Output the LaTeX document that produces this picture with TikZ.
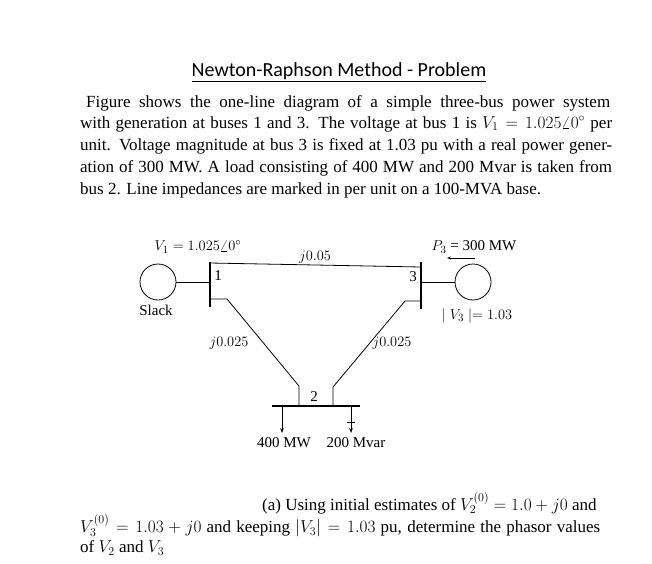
\documentclass[tikz,border=0pt]{standalone}
\usepackage{fontspec}
\setmainfont{Liberation Serif}
\newfontfamily\titlefont{Carlito}
\usetikzlibrary{arrows.meta}
\begin{document}
\begin{tikzpicture}[x=1pt,y=-1pt,
  wire/.style={line width=0.8pt},
  busbar/.style={line width=1.6pt},
  gen/.style={draw,circle,minimum size=36pt,inner sep=0pt,line width=0.8pt},
  lbl/.style={font=\fontsize{15}{17}\selectfont,inner sep=1pt},
  para/.style={font=\fontsize{17}{20}\selectfont,anchor=west,inner sep=0pt}]
\useasboundingbox (0,0) rectangle (652,563);
% title
\node (title) at (339,72) {\titlefont\fontsize{20}{24}\selectfont\underline{Newton-Raphson Method - Problem}};
% paragraph
\node[para] (p1) at (86,103) {\makebox[524pt][s]{Figure shows the one-line diagram of a simple three-bus power system}};
\node[para] (p2) at (80,124) {\makebox[532pt][s]{with generation at buses 1 and 3. The voltage at bus 1 is $V_1=1.025\angle 0^\circ$ per}};
\node[para] (p3) at (80,146) {\makebox[532pt][s]{unit. Voltage magnitude at bus 3 is fixed at 1.03 pu with a real power gener-}};
\node[para] (p4) at (80,168) {\makebox[532pt][s]{ation of 300 MW. A load consisting of 400 MW and 200 Mvar is taken from}};
\node[para] (p5) at (80,190) {bus 2. Line impedances are marked in per unit on a 100-MVA base.};
% diagram
\node[gen] (g1) at (158,282) {};
\node[gen] (g3) at (473,282) {};
\coordinate (b1t) at (210,262); \coordinate (b1b) at (210,307);
\coordinate (b3t) at (421,262); \coordinate (b3b) at (421,309);
\coordinate (b2l) at (272,406); \coordinate (b2r) at (360,406);
\draw[busbar] (b1t) -- (b1b);
\draw[busbar] (b3t) -- (b3b);
\draw[busbar] (b2l) -- (b2r);
\draw[wire] (g1) -- (210,282);
\draw[wire] (g3) -- (421,282);
\draw[wire] (210,263) -- (421,267);
\draw[wire] (210,299) -- (227,299) -- (299,386) -- (299,406);
\draw[wire] (421,301) -- (405,301) -- (333,387) -- (333,406);
\coordinate (a1) at (282,433); \coordinate (a2) at (351,433);
\draw[wire,-{Stealth[length=5pt]}] (282,406) -- (a1);
\draw[wire,-{Stealth[length=5pt]}] (351,406) -- (a2);
\draw[wire] (347,422) -- (355,422);
\draw[wire,-{Stealth[length=4pt]}] (475,258) -- (447,258);
% labels
\node[lbl] (v1) at (198,247) {$V_1=1.025\angle 0^\circ$};
\node[lbl] (z13) at (315,257) {$j0.05$};
\node[lbl] (p3l) at (474,247) {$P_3$ = 300 MW};
\node[lbl] (n1) at (218,276) {1};
\node[lbl] (n3) at (413,277) {3};
\node[lbl] (n2) at (314,397) {2};
\node[lbl] (sl) at (156,310) {Slack};
\node[lbl] (v3) at (477,316) {$\mid V_3\mid= 1.03$};
\node[lbl] (z12) at (229,343) {$j0.025$};
\node[lbl] (z23) at (392,343) {$j0.025$};
\node[lbl] (l1) at (284,443) {400 MW};
\node[lbl] (l2) at (356,443) {200 Mvar};
% question
\node[para] (q1) at (262,503) {(a) Using initial estimates of $V_2^{(0)}=1.0+j0$ and};
\node[para] (q2) at (80,526) {\makebox[520pt][s]{$V_3^{(0)}=1.03+j0$ and keeping $|V_3|=1.03$ pu, determine the phasor values}};
\node[para] (q3) at (80,548) {of $V_2$ and $V_3$};
\end{tikzpicture}
\end{document}
